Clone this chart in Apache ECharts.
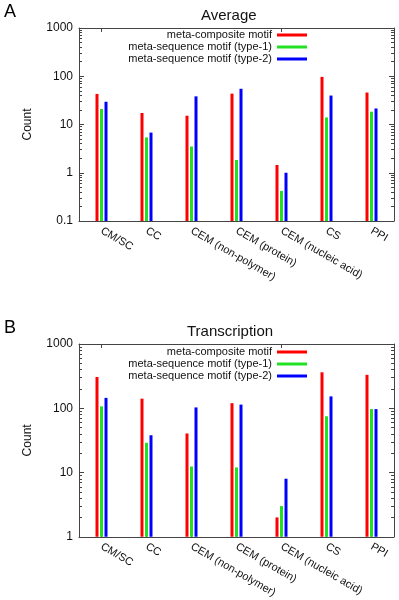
<!DOCTYPE html>
<html>
<head>
<meta charset="utf-8">
<script src="https://cdn.jsdelivr.net/npm/echarts@6/dist/echarts.min.js"></script>
<style>html,body{margin:0;padding:0;background:#fff}#c{width:399px;height:600px}</style>
</head>
<body>
<div id="c"></div>
<script>
const categories = ['CM/SC', 'CC', 'CEM (non-polymer)', 'CEM (protein)', 'CEM (nucleic acid)', 'CS', 'PPI'];
const seriesNames = ['meta-composite motif', 'meta-sequence motif (type-1)', 'meta-sequence motif (type-2)'];
const avgComposite = [43, 17.3, 15.2, 43.6, 1.45, 97, 46];
const avgType1 = [21, 5.4, 3.5, 1.84, 0.42, 14, 18.4];
const avgType2 = [29.6, 6.8, 38.3, 55, 1.0, 39.8, 21.5];
const trComposite = [307, 141, 40.5, 120, 2.0, 363, 331];
const trType1 = [107, 29, 12.4, 12, 3.0, 75, 97];
const trType2 = [145, 38, 103, 114, 8.0, 153, 97];
const avgRange = [0.1, 1000];
const trRange = [1, 1000];
const panelTitles = ['Average', 'Transcription'];
const panelLetters = ['A', 'B'];

const colors = ['#ff0000', '#22e022', '#0000ff'];
const offsets = [-4.5, 0, 4.5];
const FONT = 'Liberation Sans, Arial, Helvetica, sans-serif';
const AXC = '#444';

function minorTicks(range) {
  const out = [];
  for (let d = range[0]; d < range[1]; d *= 10) {
    for (let k = 2; k <= 9; k++) out.push(+(k * d).toPrecision(3));
  }
  return out;
}

const rects = [
  {left: 79, top: 28, width: 315, height: 193},
  {left: 79, top: 344, width: 315, height: 193}
];
// two more grids with the same rectangles carry the minor ticks
const grids = [rects[0], rects[1], Object.assign({}, rects[0]), Object.assign({}, rects[1])];
const ranges = [avgRange, trRange];
const dataSets = [[avgComposite, avgType1, avgType2], [trComposite, trType1, trType2]];

const xAxes = [], yAxes = [], series = [];
rects.forEach((g, gi) => {
  xAxes.push({
    gridIndex: gi, type: 'category', data: categories, position: 'bottom',
    boundaryGap: true,
    axisLine: {show: true, lineStyle: {color: AXC, width: 1}},
    axisTick: {show: true, inside: true, alignWithLabel: true, length: 4, lineStyle: {color: AXC}},
    axisLabel: {interval: 0, rotate: -30, fontSize: 11, color: '#111', fontFamily: FONT, margin: 9},
    splitLine: {show: false}
  });
  xAxes.push({
    gridIndex: gi, type: 'category', data: categories, position: 'top',
    boundaryGap: true,
    axisLine: {show: true, lineStyle: {color: AXC, width: 1}},
    axisTick: {show: true, inside: true, alignWithLabel: true, length: 4, lineStyle: {color: AXC}},
    axisLabel: {show: false}, splitLine: {show: false}
  });
  const r = ranges[gi];
  const base = {gridIndex: gi, type: 'log', logBase: 10, min: r[0], max: r[1], splitLine: {show: false}};
  yAxes.push(Object.assign({}, base, {
    position: 'left',
    name: 'Count', nameLocation: 'middle', nameGap: 45,
    nameTextStyle: {fontSize: 12, color: '#111', fontFamily: FONT},
    axisLine: {show: true, lineStyle: {color: AXC, width: 1}},
    axisTick: {show: true, inside: true, length: 5, lineStyle: {color: AXC}},
    axisLabel: {fontSize: 12, color: '#111', fontFamily: FONT, margin: 6,
      formatter: v => String(v)}
  }));
  yAxes.push(Object.assign({}, base, {
    position: 'right',
    axisLine: {show: true, lineStyle: {color: AXC, width: 1}},
    axisTick: {show: true, inside: true, length: 5, lineStyle: {color: AXC}},
    axisLabel: {show: false}
  }));
  dataSets[gi].forEach((vals, si) => {
    const yMin = r[0];
    const off = offsets[si];
    series.push({
      name: seriesNames[si], type: 'custom',
      xAxisIndex: gi * 2, yAxisIndex: gi * 2,
      itemStyle: {color: colors[si]},
      data: vals.map((v, i) => [i, v]),
      renderItem: function (params, api) {
        const top = api.coord([api.value(0), api.value(1)]);
        const bot = api.coord([api.value(0), yMin]);
        return {
          type: 'rect',
          shape: {x: top[0] + off - 1.5, y: top[1], width: 3, height: bot[1] - top[1]},
          style: {fill: colors[si]}
        };
      }
    });
  });
});
// minor tick grids
rects.forEach((g, gi) => {
  const r = ranges[gi];
  xAxes.push({gridIndex: gi + 2, type: 'category', data: categories, show: false});
  const base = {gridIndex: gi + 2, type: 'log', logBase: 10, min: r[0], max: r[1], splitLine: {show: false},
    axisLine: {show: false}, axisLabel: {show: false}};
  yAxes.push(Object.assign({}, base, {
    position: 'left',
    axisTick: {show: true, inside: true, length: 3, customValues: minorTicks(r), lineStyle: {color: AXC}}
  }));
  yAxes.push(Object.assign({}, base, {
    position: 'right',
    axisTick: {show: true, inside: true, length: 3, customValues: minorTicks(r), lineStyle: {color: AXC}}
  }));
});

const chart = echarts.init(document.getElementById('c'), null, {renderer: 'canvas'});
chart.setOption({
  animation: false,
  backgroundColor: '#fff',
  title: [
    {text: panelTitles[0], left: 201, top: 8, padding: 0, textStyle: {fontSize: 15, fontWeight: 'normal', color: '#111', fontFamily: FONT}},
    {text: panelTitles[1], left: 187, top: 324, padding: 0, textStyle: {fontSize: 15, fontWeight: 'normal', color: '#111', fontFamily: FONT}},
    {text: panelLetters[0], left: 4, top: 3, padding: 0, textStyle: {fontSize: 18, fontWeight: 'normal', color: '#000', fontFamily: FONT}},
    {text: panelLetters[1], left: 4, top: 319, padding: 0, textStyle: {fontSize: 18, fontWeight: 'normal', color: '#000', fontFamily: FONT}}
  ],
  legend: [
    {data: seriesNames, orient: 'vertical', align: 'right', right: 92, top: 29, padding: 0,
     itemWidth: 30, itemHeight: 3, itemGap: 0, icon: 'rect',
     textStyle: {fontSize: 11, lineHeight: 12, color: '#111', fontFamily: FONT}},
    {data: seriesNames, orient: 'vertical', align: 'right', right: 92, top: 346, padding: 0,
     itemWidth: 30, itemHeight: 3, itemGap: 0, icon: 'rect',
     textStyle: {fontSize: 11, lineHeight: 12, color: '#111', fontFamily: FONT}}
  ],
  grid: grids,
  xAxis: xAxes,
  yAxis: yAxes,
  series: series
});
</script>
</body>
</html>
